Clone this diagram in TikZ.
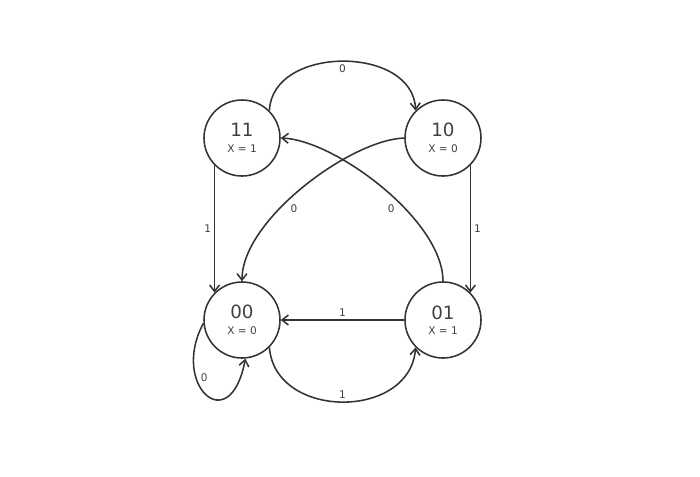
\documentclass[tikz,border=0pt]{standalone}
\usepackage{fontspec}
\setmainfont{DejaVu Sans}
\usetikzlibrary{arrows.meta}
\begin{document}
\begin{tikzpicture}[x=0.025cm, y=-0.025cm, >={Straight Barb[length=4.5pt,width=7pt]},
    stnode/.style={circle, draw=black!80, line width=1.1pt, minimum size=1.9cm, inner sep=0pt, align=center, text=black!75},
    trans/.style={->, draw=black!80, line width=1.1pt},
    edgelabel/.style={font=\fontsize{7.5}{8}\selectfont, text=black!75, inner sep=2pt}]
    \useasboundingbox (0,0) rectangle (700,476);
    \node [stnode] (S11) at (242,138) {{\fontsize{13}{14}\selectfont 11}\\[-1pt]{\fontsize{7.5}{8}\selectfont X = 1}};
    \node [stnode] (S10) at (443,138) {{\fontsize{13}{14}\selectfont 10}\\[-1pt]{\fontsize{7.5}{8}\selectfont X = 0}};
    \node [stnode] (S00) at (242,320) {{\fontsize{13}{14}\selectfont 00}\\[-1pt]{\fontsize{7.5}{8}\selectfont X = 0}};
    \node [stnode] (S01) at (443,320) {{\fontsize{13}{14}\selectfont 01}\\[-1pt]{\fontsize{7.5}{8}\selectfont X = 1}};

    \draw [trans] (S11.45) .. controls (272,45) and (413,45) .. node [edgelabel, below] {0} (S10.135);
    \draw [trans] (S11.225) -- node [edgelabel, left] {1} (S00.135);
    \draw [trans] (S10.-45) -- node [edgelabel, right] {1} (S01.45);
    \draw [trans] (S10.180) .. controls (350,140) and (242,220) .. node [edgelabel, pos=0.62, right=5pt] {0} (S00.90);
    \draw [trans] (S01.90) .. controls (443,220) and (335,140) .. node [edgelabel, pos=0.38, left=5pt] {0} (S11.0);
    \draw [trans] (S01.180) -- node [edgelabel, above] {1} (S00.0);
    \draw [trans] (S00.-45) .. controls (275,420) and (410,420) .. node [edgelabel, above] {1} (S01.-135);
    \draw [trans] (S00.185) .. controls (170,385) and (230,440) .. node [edgelabel, pos=0.33, right=1pt] {0} (S00.275);
\end{tikzpicture}
\end{document}
